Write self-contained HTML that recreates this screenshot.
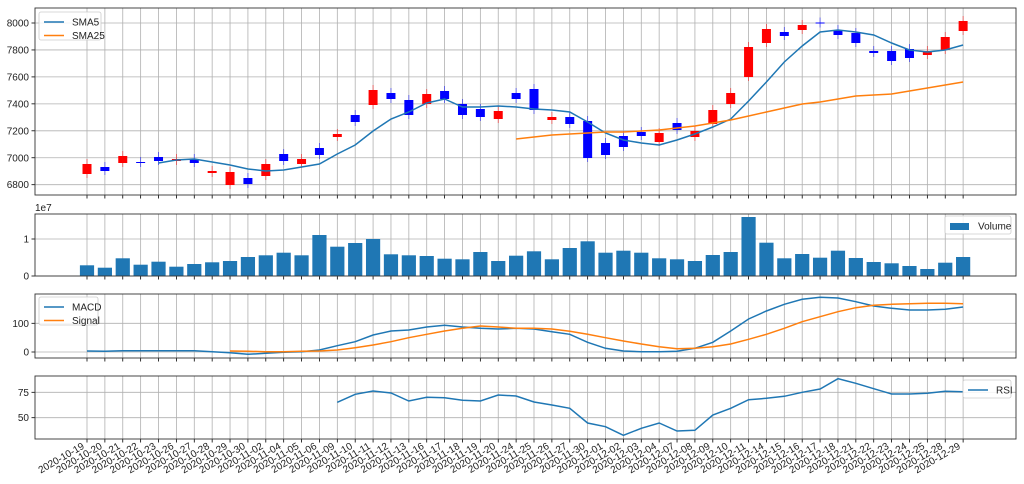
<!DOCTYPE html>
<html><head><meta charset="utf-8"><style>
html,body{margin:0;padding:0;background:#fff;}
svg{display:block;font-family:"Liberation Sans","DejaVu Sans",sans-serif;}
</style></head><body>
<svg id="s" width="1024" height="484" xmlns="http://www.w3.org/2000/svg"></svg>
<script>
const S=document.getElementById('s');let h='';
const X=i=>87+17.88*i;
const dates=["2020-10-19","2020-10-20","2020-10-21","2020-10-22","2020-10-23","2020-10-26","2020-10-27","2020-10-28","2020-10-29","2020-10-30","2020-11-02","2020-11-04","2020-11-05","2020-11-06","2020-11-09","2020-11-10","2020-11-11","2020-11-12","2020-11-13","2020-11-16","2020-11-17","2020-11-18","2020-11-19","2020-11-20","2020-11-24","2020-11-25","2020-11-26","2020-11-27","2020-11-30","2020-12-01","2020-12-02","2020-12-03","2020-12-04","2020-12-07","2020-12-08","2020-12-09","2020-12-10","2020-12-11","2020-12-14","2020-12-15","2020-12-16","2020-12-17","2020-12-18","2020-12-21","2020-12-22","2020-12-23","2020-12-24","2020-12-25","2020-12-28","2020-12-29"];
const panels=[[8,195],[214,276],[294,358],[376,439]];
const L=35,R=1016;
const hg=[[184.7,157.75,130.8,103.85,76.9,49.95,23],[276,239],[352,323.3],[417.7,392.3]];
panels.forEach((p,k)=>{
 for(let i=0;i<50;i++){h+=`<line x1="${X(i)}" y1="${p[0]}" x2="${X(i)}" y2="${p[1]}" stroke="#b0b0b0" stroke-width="0.8"/>`;
  h+=`<line x1="${X(i)}" y1="${p[1]}" x2="${X(i)}" y2="${p[1]+3.5}" stroke="#000" stroke-width="0.8"/>`;}
 hg[k].forEach(y=>{h+=`<line x1="${L}" y1="${y}" x2="${R}" y2="${y}" stroke="#b0b0b0" stroke-width="0.8"/><line x1="${L-3.5}" y1="${y}" x2="${L}" y2="${y}" stroke="#000" stroke-width="0.8"/>`;});
});
const yl=[[184.7,"6800"],[157.75,"7000"],[130.8,"7200"],[103.85,"7400"],[76.9,"7600"],[49.95,"7800"],[23,"8000"],[276,"0"],[239,"1"],[352,"0"],[323.3,"100"],[417.7,"50"],[392.3,"75"]];
yl.forEach(a=>h+=`<text x="${L-6}" y="${a[0]+3.5}" font-size="10" text-anchor="end" fill="#222">${a[1]}</text>`);
h+=`<text x="35" y="211" font-size="10" fill="#222">1e7</text>`;
const C=[["r",164,174],["b",167,171],["r",156,163],["b",162,163],["b",157,161],["r",159,161],["b",159,163],["r",171,173],["r",172,185],["b",178,184],["r",164,176],["b",154,161],["r",159,164],["b",148,155],["r",134,137],["b",115,122],["r",90,105],["b",93,99],["b",100,115],["r",94,104],["b",91,99],["b",104,115],["b",109,117],["r",111,119],["b",93,99],["b",89,110],["r",117,120],["b",117,124],["b",121,158],["b",143,155],["b",136,147],["b",132,136],["r",133,142],["b",123,130],["r",131,137],["r",110,124],["r",93,104],["r",47,77],["r",29,43],["b",32,36],["r",25,30],["b",22.5,23.5],["b",30,35],["b",33,43],["b",51,53],["b",51,61],["b",49,58],["r",51,55],["r",37,50],["r",21,31]];
C.forEach((c,i)=>{const col=c[0]=="r"?"#ff0000":"#0000ff";const x=X(i);
 h+=`<line x1="${x}" y1="${c[1]-5}" x2="${x}" y2="${c[2]+4}" stroke="${col}" stroke-width="0.8" opacity="0.6"/>`;
 h+=`<rect x="${x-4.5}" y="${c[1]}" width="9" height="${Math.max(1,c[2]-c[1])}" fill="${col}"/>`;});
const line=(st,ys,col)=>{let p=ys.map((y,j)=>`${X(st+j).toFixed(1)},${y}`).join(' ');h+=`<polyline points="${p}" fill="none" stroke="${col}" stroke-width="1.5"/>`;};
line(4,[163,160,159,162,165,169,171,170,167,164,154,145,131,119,112,103,99,107,107,106,107,109,110,112,122,133,140,143,145,140,134,127,119,101,82,62,46,32,30,32,35,43,50,52,50,45],"#1f77b4");
line(24,[139,137,135,134,133,132,132,131,130,128,126,123,120,116,112,108,104,102,99,96,95,94,91,88,85,82],"#ff7f0e");
const V=[265.3,267.7,258.3,264.7,261.7,266.7,264,262.3,261,257,255.3,252.7,255.3,235,246.7,243,239,254.3,255.3,256,258.7,259.3,252,261,255.7,251.3,259.3,248,241.3,252.7,250.7,252.7,258.3,259.3,261,255,252,217,242.7,258.3,254,257.7,250.7,258,262,263.3,266,269,262.7,257];
V.forEach((y,i)=>h+=`<rect x="${X(i)-7.1}" y="${y}" width="14.2" height="${276-y}" fill="#1f77b4"/>`);
line(0,[351,351.3,350.7,350.7,350.7,350.7,350.7,351.7,352.7,354.3,353.3,352.3,351.7,350,345.7,341.7,335,331,330,327,325.3,327,328.3,329,328.3,329,331.7,334.3,342.3,348.3,351,351.7,351.7,351.3,348.3,342.3,331,319,311,304.3,299.3,297.3,298,301.7,306,308.3,310,310,309.3,307],"#1f77b4");
line(8,[351,351.3,351.7,351.7,351.3,351,350,347.7,345,341.7,337.7,334.3,331,328.3,326,327,328.3,328.3,329,331.3,334.3,337.7,341,344,346.7,348.7,348.3,346.7,344,339.3,334.3,328.3,321.7,316.7,311.7,307.7,305.3,304.3,303.7,303.3,303.3,303.7],"#ff7f0e");
line(14,[402.3,394.3,391,393,401,397.3,397.7,400.3,401,395,396,402,405,408.3,423,426.7,435.3,428.3,423,431,430.3,415,408.3,399.7,398.3,396.3,392.3,389,378.7,383.3,388.7,394,394,393.3,391.3,391.7],"#1f77b4");
panels.forEach(p=>h+=`<rect x="${L}" y="${p[0]}" width="${R-L}" height="${p[1]-p[0]}" fill="none" stroke="#333" stroke-width="0.9"/>`);
const leg=(x,y,w,hh,items)=>{h+=`<rect x="${x}" y="${y}" width="${w}" height="${hh}" rx="2" fill="#fff" fill-opacity="0.85" stroke="#ccc" stroke-width="0.8"/>`;
 items.forEach((it,j)=>{const yy=y+10+j*13.5;
  if(it[2]=="bar")h+=`<rect x="${x+5}" y="${yy-3}" width="19" height="7" fill="${it[1]}"/>`;else h+=`<line x1="${x+5}" y1="${yy}" x2="${x+25}" y2="${yy}" stroke="${it[1]}" stroke-width="1.5"/>`;
  h+=`<text x="${x+33}" y="${yy+3.5}" font-size="10" fill="#222">${it[0]}</text>`;});};
leg(39,12,62,28,[["SMA5","#1f77b4"],["SMA25","#ff7f0e"]]);
leg(39,297,59,28,[["MACD","#1f77b4"],["Signal","#ff7f0e"]]);
leg(945,216,66,18,[["Volume","#1f77b4","bar"]]);
leg(963,380,48,18,[["RSI","#1f77b4"]]);
dates.forEach((d,i)=>{const x=X(i)-2,y=448;h+=`<text transform="translate(${x},${y}) rotate(-30)" font-size="10" text-anchor="end" fill="#222">${d}</text>`;});
S.innerHTML=h;
</script>
</body></html>
